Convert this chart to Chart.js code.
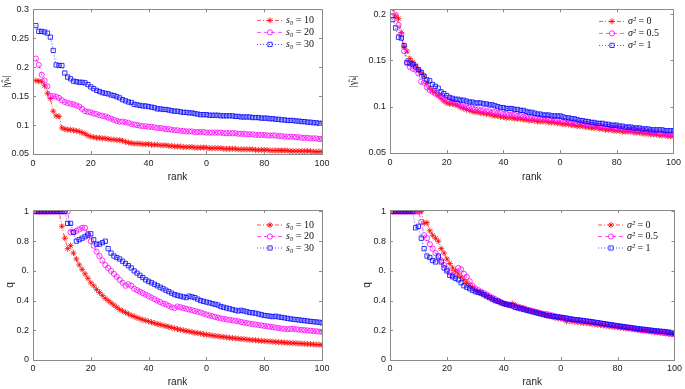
<!DOCTYPE html>
<html>
<head>
<meta charset="utf-8">
<script src="https://cdn.jsdelivr.net/npm/chart.js@4.4.0/dist/chart.umd.min.js"></script>
<style>
body { margin: 0; background: #fff; }
#wrap { position: relative; width: 685px; height: 389px; overflow: hidden; }
canvas { position: absolute; }
</style>
</head>
<body>
<div id="wrap">
	<canvas id="gammaS" width="342" height="194" style="left:0px;top:0px"></canvas>
	<canvas id="gammaSig" width="343" height="194" style="left:342px;top:0px"></canvas>
	<canvas id="qS" width="342" height="194" style="left:0px;top:195px"></canvas>
	<canvas id="qSig" width="343" height="194" style="left:342px;top:195px"></canvas>
</div>
<script>
// rank 1..100 on the x axis
var ranks = [];
for (var i = 1; i <= 100; i++) {
	ranks.push(i);
}

// Tick values and the labels printed for them (as in the original figure)
var xTicks = [0, 20, 40, 60, 80, 100];
var xTickLabels = ['0', '20', '40', '0', '80', '100'];
var gammaTicksS = [0.05, 0.1, 0.15, 0.2, 0.25, 0.3];
var gammaTickLabelsS = ['0.05', '0.1', '0.15', '0.2', '0.25', '0.3'];
var gammaTicksSig = [0.05, 0.1, 0.15, 0.2];
var gammaTickLabelsSig = ['0.05', '0.1', '0.15', '0.2'];
var qTicks = [0, 0.2, 0.4, 0.6, 0.8, 1];
var qTickLabels = ['0', '0.2', '0.4', '0.', '0.8', '1'];

// Legend entries
var s0Labels = ['s₀ = 10', 's₀ = 20', 's₀ = 30'];
var sigmaLabels = ['σ² = 0', 'σ² = 0.5', 'σ² = 1'];

// |gamma_k| vs rank, varying s0
var gammaS10 = [0.177, 0.176, 0.175, 0.168, 0.155, 0.146, 0.124, 0.116, 0.115, 0.095,
	0.093, 0.092, 0.092, 0.091, 0.090, 0.089, 0.087, 0.085, 0.082, 0.080,
	0.079, 0.078, 0.078, 0.077, 0.077, 0.076, 0.075, 0.075, 0.074, 0.074,
	0.073, 0.071, 0.070, 0.069, 0.068, 0.068, 0.068, 0.067, 0.067, 0.067,
	0.066, 0.066, 0.066, 0.065, 0.065, 0.065, 0.064, 0.064, 0.063, 0.063,
	0.063, 0.062, 0.062, 0.062, 0.062, 0.061, 0.061, 0.061, 0.061, 0.061,
	0.060, 0.060, 0.060, 0.060, 0.060, 0.059, 0.059, 0.059, 0.059, 0.059,
	0.058, 0.058, 0.058, 0.058, 0.058, 0.058, 0.057, 0.057, 0.057, 0.057,
	0.057, 0.056, 0.056, 0.056, 0.056, 0.056, 0.056, 0.056, 0.055, 0.055,
	0.055, 0.055, 0.055, 0.055, 0.055, 0.055, 0.054, 0.054, 0.054, 0.054];
var gammaS20 = [0.215, 0.204, 0.187, 0.177, 0.167, 0.150, 0.150, 0.149, 0.147, 0.143,
	0.140, 0.138, 0.137, 0.136, 0.134, 0.132, 0.128, 0.124, 0.123, 0.122,
	0.120, 0.119, 0.117, 0.116, 0.115, 0.113, 0.111, 0.109, 0.107, 0.106,
	0.106, 0.105, 0.104, 0.102, 0.101, 0.100, 0.099, 0.098, 0.098, 0.097,
	0.097, 0.096, 0.095, 0.095, 0.094, 0.093, 0.093, 0.092, 0.091, 0.091,
	0.090, 0.090, 0.089, 0.089, 0.089, 0.088, 0.088, 0.088, 0.088, 0.087,
	0.087, 0.087, 0.087, 0.087, 0.087, 0.086, 0.086, 0.086, 0.086, 0.086,
	0.085, 0.085, 0.085, 0.084, 0.084, 0.084, 0.083, 0.083, 0.083, 0.083,
	0.082, 0.082, 0.082, 0.082, 0.081, 0.081, 0.080, 0.080, 0.080, 0.080,
	0.079, 0.079, 0.078, 0.078, 0.078, 0.077, 0.077, 0.077, 0.076, 0.076];
var gammaS30 = [0.272, 0.262, 0.262, 0.261, 0.259, 0.252, 0.229, 0.204, 0.203, 0.203,
	0.190, 0.183, 0.180, 0.176, 0.175, 0.174, 0.174, 0.173, 0.170, 0.166,
	0.163, 0.160, 0.158, 0.156, 0.155, 0.154, 0.152, 0.151, 0.149, 0.147,
	0.144, 0.142, 0.140, 0.139, 0.136, 0.135, 0.134, 0.133, 0.133, 0.132,
	0.131, 0.130, 0.128, 0.128, 0.127, 0.127, 0.126, 0.125, 0.124, 0.124,
	0.123, 0.122, 0.122, 0.121, 0.121, 0.120, 0.119, 0.118, 0.118, 0.118,
	0.117, 0.117, 0.117, 0.117, 0.116, 0.116, 0.116, 0.116, 0.116, 0.115,
	0.115, 0.114, 0.114, 0.114, 0.114, 0.113, 0.113, 0.113, 0.112, 0.112,
	0.112, 0.111, 0.111, 0.110, 0.110, 0.109, 0.109, 0.108, 0.108, 0.108,
	0.107, 0.107, 0.106, 0.106, 0.105, 0.105, 0.104, 0.104, 0.103, 0.103];

// |gamma_k| vs rank, varying sigma^2
var gammaSig0 = [0.206, 0.198, 0.195, 0.180, 0.165, 0.160, 0.152, 0.148, 0.145, 0.140,
	0.137, 0.133, 0.125, 0.120, 0.117, 0.115, 0.112, 0.109, 0.106, 0.104,
	0.103, 0.103, 0.102, 0.101, 0.099, 0.098, 0.097, 0.096, 0.095, 0.094,
	0.094, 0.093, 0.093, 0.092, 0.092, 0.091, 0.090, 0.090, 0.089, 0.089,
	0.088, 0.088, 0.088, 0.087, 0.087, 0.087, 0.086, 0.086, 0.085, 0.085,
	0.085, 0.084, 0.084, 0.084, 0.084, 0.083, 0.083, 0.083, 0.082, 0.082,
	0.081, 0.081, 0.081, 0.080, 0.080, 0.079, 0.079, 0.079, 0.078, 0.078,
	0.077, 0.077, 0.077, 0.076, 0.076, 0.075, 0.075, 0.075, 0.074, 0.074,
	0.074, 0.073, 0.073, 0.073, 0.073, 0.072, 0.072, 0.072, 0.071, 0.071,
	0.071, 0.070, 0.070, 0.070, 0.069, 0.069, 0.069, 0.068, 0.068, 0.068];
var gammaSig05 = [0.198, 0.199, 0.188, 0.178, 0.160, 0.147, 0.143, 0.141, 0.140, 0.136,
	0.127, 0.126, 0.121, 0.118, 0.116, 0.114, 0.113, 0.111, 0.109, 0.107,
	0.106, 0.105, 0.104, 0.103, 0.101, 0.100, 0.099, 0.099, 0.098, 0.097,
	0.097, 0.096, 0.096, 0.095, 0.095, 0.094, 0.094, 0.093, 0.093, 0.092,
	0.092, 0.091, 0.091, 0.091, 0.090, 0.090, 0.089, 0.089, 0.088, 0.088,
	0.088, 0.088, 0.087, 0.087, 0.087, 0.086, 0.086, 0.086, 0.085, 0.085,
	0.084, 0.084, 0.084, 0.083, 0.083, 0.082, 0.082, 0.082, 0.081, 0.081,
	0.080, 0.080, 0.079, 0.079, 0.078, 0.078, 0.078, 0.077, 0.077, 0.077,
	0.076, 0.076, 0.076, 0.075, 0.075, 0.075, 0.074, 0.074, 0.074, 0.073,
	0.073, 0.073, 0.072, 0.072, 0.071, 0.071, 0.071, 0.070, 0.070, 0.070];
var gammaSig1 = [0.194, 0.185, 0.175, 0.174, 0.166, 0.148, 0.147, 0.146, 0.143, 0.140,
	0.137, 0.133, 0.129, 0.128, 0.124, 0.122, 0.120, 0.116, 0.114, 0.112,
	0.110, 0.109, 0.108, 0.108, 0.107, 0.107, 0.106, 0.105, 0.105, 0.104,
	0.104, 0.104, 0.103, 0.103, 0.102, 0.102, 0.101, 0.100, 0.099, 0.099,
	0.098, 0.098, 0.098, 0.097, 0.097, 0.096, 0.096, 0.095, 0.094, 0.094,
	0.093, 0.092, 0.092, 0.091, 0.091, 0.091, 0.090, 0.090, 0.090, 0.090,
	0.089, 0.088, 0.088, 0.087, 0.087, 0.086, 0.085, 0.085, 0.084, 0.084,
	0.083, 0.083, 0.082, 0.082, 0.082, 0.081, 0.081, 0.080, 0.080, 0.080,
	0.079, 0.079, 0.078, 0.078, 0.078, 0.077, 0.077, 0.077, 0.076, 0.076,
	0.076, 0.075, 0.075, 0.075, 0.075, 0.075, 0.074, 0.074, 0.074, 0.074];

// q vs rank, varying s0
var qS10 = [1, 1, 1, 1, 1, 1, 1, 1, 1, 0.90,
	0.82, 0.75, 0.77, 0.72, 0.68, 0.64, 0.61, 0.58, 0.55, 0.52,
	0.50, 0.475, 0.455, 0.435, 0.415, 0.40, 0.385, 0.37, 0.355, 0.34,
	0.33, 0.32, 0.31, 0.30, 0.293, 0.285, 0.278, 0.271, 0.265, 0.26,
	0.254, 0.248, 0.243, 0.238, 0.233, 0.228, 0.223, 0.218, 0.213, 0.208,
	0.204, 0.20, 0.196, 0.192, 0.188, 0.184, 0.181, 0.178, 0.174, 0.171,
	0.168, 0.165, 0.162, 0.16, 0.157, 0.155, 0.152, 0.15, 0.148, 0.146,
	0.144, 0.142, 0.14, 0.138, 0.136, 0.134, 0.133, 0.131, 0.129, 0.128,
	0.126, 0.125, 0.123, 0.122, 0.12, 0.119, 0.118, 0.116, 0.115, 0.114,
	0.113, 0.111, 0.11, 0.109, 0.108, 0.107, 0.105, 0.104, 0.103, 0.102];
var qS20 = [1, 1, 1, 1, 1, 1, 1, 1, 1, 1,
	1, 1, 0.86, 0.86, 0.87, 0.88, 0.89, 0.89, 0.85, 0.80,
	0.77, 0.73, 0.70, 0.67, 0.64, 0.62, 0.60, 0.58, 0.56, 0.54,
	0.52, 0.50, 0.51, 0.50, 0.48, 0.47, 0.46, 0.45, 0.44, 0.43,
	0.42, 0.41, 0.40, 0.39, 0.38, 0.375, 0.365, 0.355, 0.35, 0.36,
	0.355, 0.35, 0.345, 0.34, 0.335, 0.33, 0.325, 0.32, 0.313, 0.306,
	0.30, 0.295, 0.29, 0.285, 0.28, 0.277, 0.273, 0.27, 0.267, 0.264,
	0.26, 0.256, 0.252, 0.248, 0.245, 0.242, 0.239, 0.236, 0.233, 0.23,
	0.227, 0.224, 0.221, 0.218, 0.215, 0.212, 0.21, 0.207, 0.21, 0.21,
	0.207, 0.205, 0.203, 0.201, 0.199, 0.197, 0.195, 0.193, 0.191, 0.19];
var qS30 = [1, 1, 1, 1, 1, 1, 1, 1, 1, 1,
	1, 0.92, 0.92, 0.86, 0.80, 0.81, 0.82, 0.83, 0.84, 0.85,
	0.81, 0.78, 0.78, 0.79, 0.80, 0.75, 0.72, 0.70, 0.69, 0.68,
	0.665, 0.65, 0.635, 0.62, 0.60, 0.585, 0.57, 0.555, 0.54, 0.53,
	0.52, 0.51, 0.50, 0.49, 0.48, 0.47, 0.46, 0.45, 0.44, 0.435,
	0.43, 0.425, 0.42, 0.43, 0.425, 0.42, 0.41, 0.40, 0.395, 0.39,
	0.385, 0.38, 0.375, 0.37, 0.36, 0.355, 0.35, 0.345, 0.34, 0.335,
	0.33, 0.335, 0.33, 0.325, 0.32, 0.318, 0.315, 0.31, 0.305, 0.30,
	0.298, 0.295, 0.292, 0.295, 0.29, 0.287, 0.284, 0.28, 0.277, 0.274,
	0.272, 0.27, 0.267, 0.265, 0.262, 0.26, 0.258, 0.256, 0.254, 0.25];

// q vs rank, varying sigma^2
var qSig0 = [1, 1, 1, 1, 1, 1, 1, 1, 1, 1,
	1, 0.92, 0.925, 0.87, 0.84, 0.82, 0.80, 0.75, 0.72, 0.68,
	0.65, 0.62, 0.60, 0.58, 0.56, 0.54, 0.52, 0.50, 0.49, 0.47,
	0.46, 0.45, 0.44, 0.43, 0.42, 0.41, 0.40, 0.395, 0.39, 0.38,
	0.375, 0.37, 0.38, 0.37, 0.36, 0.355, 0.35, 0.34, 0.335, 0.33,
	0.325, 0.32, 0.315, 0.31, 0.30, 0.295, 0.29, 0.285, 0.28, 0.28,
	0.275, 0.26, 0.265, 0.26, 0.258, 0.255, 0.252, 0.25, 0.248, 0.245,
	0.242, 0.24, 0.237, 0.235, 0.232, 0.23, 0.227, 0.224, 0.222, 0.22,
	0.217, 0.215, 0.212, 0.21, 0.208, 0.205, 0.203, 0.2, 0.198, 0.196,
	0.193, 0.19, 0.188, 0.186, 0.184, 0.181, 0.179, 0.176, 0.174, 0.172];
var qSig05 = [1, 1, 1, 1, 1, 1, 1, 1, 1, 1,
	0.93, 0.84, 0.82, 0.78, 0.75, 0.72, 0.69, 0.67, 0.64, 0.61,
	0.59, 0.57, 0.58, 0.62, 0.61, 0.58, 0.56, 0.53, 0.50, 0.48,
	0.47, 0.46, 0.45, 0.44, 0.43, 0.42, 0.41, 0.40, 0.39, 0.38,
	0.375, 0.37, 0.365, 0.36, 0.355, 0.35, 0.345, 0.34, 0.335, 0.33,
	0.325, 0.32, 0.315, 0.31, 0.31, 0.305, 0.30, 0.295, 0.29, 0.285,
	0.28, 0.278, 0.275, 0.272, 0.27, 0.267, 0.264, 0.262, 0.26, 0.258,
	0.255, 0.252, 0.249, 0.246, 0.243, 0.24, 0.237, 0.234, 0.231, 0.228,
	0.225, 0.222, 0.219, 0.216, 0.213, 0.21, 0.207, 0.204, 0.201, 0.199,
	0.196, 0.194, 0.191, 0.189, 0.186, 0.184, 0.181, 0.179, 0.176, 0.173];
var qSig1 = [1, 1, 1, 1, 1, 1, 1, 1, 0.89, 0.90,
	0.82, 0.75, 0.70, 0.69, 0.67, 0.66, 0.70, 0.66, 0.62, 0.60,
	0.57, 0.56, 0.55, 0.54, 0.52, 0.50, 0.49, 0.48, 0.47, 0.46,
	0.455, 0.45, 0.44, 0.43, 0.42, 0.41, 0.40, 0.395, 0.385, 0.38,
	0.375, 0.37, 0.365, 0.355, 0.35, 0.345, 0.34, 0.335, 0.33, 0.325,
	0.32, 0.315, 0.31, 0.305, 0.30, 0.298, 0.295, 0.292, 0.29, 0.288,
	0.285, 0.282, 0.278, 0.275, 0.272, 0.27, 0.268, 0.265, 0.262, 0.26,
	0.257, 0.254, 0.251, 0.248, 0.245, 0.242, 0.239, 0.236, 0.233, 0.23,
	0.228, 0.225, 0.222, 0.22, 0.217, 0.214, 0.211, 0.209, 0.207, 0.205,
	0.203, 0.2, 0.198, 0.196, 0.194, 0.192, 0.19, 0.188, 0.185, 0.182];

// Line / marker look for the three series in every panel
var seriesStyle = [
	{ color: '#ff0000', dash: [4, 2, 1, 2], point: 'star', radius: 3 },
	{ color: '#ff00ff', dash: [4, 3], point: 'circle', radius: 2.6 },
	{ color: '#0000ff', dash: [1, 2], point: 'rect', radius: 3 }
];

var boxColor = '#8a8a8a';

Chart.defaults.font.family = '"Liberation Sans", Arial, sans-serif';
Chart.defaults.animation = false;

function makeDatasets(labels, series) {
	var sets = [];
	for (var i = 0; i < series.length; i++) {
		var st = seriesStyle[i];
		var pts = [];
		for (var k = 0; k < ranks.length; k++) {
			pts.push({ x: ranks[k], y: series[i][k] });
		}
		sets.push({
			label: labels[i],
			data: pts,
			borderColor: st.color,
			backgroundColor: 'rgba(0,0,0,0)',
			borderWidth: 0.7,
			borderDash: st.dash,
			pointStyle: st.point,
			pointRadius: st.radius,
			pointBorderWidth: 0.8,
			pointBorderColor: st.color,
			pointBackgroundColor: 'rgba(0,0,0,0)',
			order: 3 - i
		});
	}
	return sets;
}

// Grey frame with inward ticks on all four sides, plus the small key
var framePlugin = {
	id: 'frame',
	afterDraw: function(chart, args, opts) {
		var ctx = chart.ctx;
		var a = chart.chartArea;
		ctx.save();
		ctx.strokeStyle = boxColor;
		ctx.lineWidth = 1;
		ctx.setLineDash([]);
		ctx.strokeRect(Math.round(a.left) + 0.5, Math.round(a.top) + 0.5,
			Math.round(a.right - a.left), Math.round(a.bottom - a.top));
		ctx.beginPath();
		chart.scales.x.ticks.forEach(function(t) {
			var px = Math.round(chart.scales.x.getPixelForValue(t.value)) + 0.5;
			ctx.moveTo(px, a.bottom); ctx.lineTo(px, a.bottom - 3);
			ctx.moveTo(px, a.top); ctx.lineTo(px, a.top + 3);
		});
		chart.scales.y.ticks.forEach(function(t) {
			var py = Math.round(chart.scales.y.getPixelForValue(t.value)) + 0.5;
			ctx.moveTo(a.left, py); ctx.lineTo(a.left + 3, py);
			ctx.moveTo(a.right, py); ctx.lineTo(a.right - 3, py);
		});
		ctx.stroke();
		ctx.restore();

		// key
		chart.data.datasets.forEach(function(ds, i) {
			var x = a.left + opts.x;
			var y = a.top + opts.y + i * opts.step;
			ctx.save();
			ctx.strokeStyle = ds.borderColor;
			ctx.lineWidth = ds.borderWidth;
			ctx.setLineDash(ds.borderDash);
			ctx.beginPath();
			ctx.moveTo(x, y);
			ctx.lineTo(x + 25, y);
			ctx.stroke();
			ctx.setLineDash([]);
			ctx.lineWidth = ds.pointBorderWidth;
			ctx.fillStyle = 'rgba(0,0,0,0)';
			Chart.helpers.drawPoint(ctx, { pointStyle: ds.pointStyle, radius: ds.pointRadius, rotation: 0, borderWidth: ds.pointBorderWidth }, x + 13, y);
			var parts = ds.label.split(' = ');
			ctx.fillStyle = '#111';
			ctx.textBaseline = 'middle';
			ctx.font = 'italic 10px "Liberation Serif", "DejaVu Serif", serif';
			ctx.fillText(parts[0], x + 29, y);
			var w = ctx.measureText(parts[0]).width;
			ctx.font = '10px "Liberation Serif", "DejaVu Serif", serif';
			ctx.fillText(' = ' + parts[1], x + 29 + w, y);
			ctx.restore();
		});
	}
};

function makeChart(id, labels, series, yMin, yMax, yTicks, yLabels, yTitle, lay) {
	var ctx = document.getElementById(id).getContext('2d');
	return new Chart(ctx, {
		type: 'line',
		data: { datasets: makeDatasets(labels, series) },
		plugins: [framePlugin],
		options: {
			responsive: false,
			layout: { padding: { left: lay.padL, right: lay.padR, top: lay.padT, bottom: 0 } },
			plugins: {
				legend: { display: false },
				tooltip: { enabled: false },
				frame: lay.key
			},
			scales: {
				x: {
					type: 'linear',
					min: 0,
					max: 100,
					afterBuildTicks: function(s) { s.ticks = xTicks.map(function(v) { return { value: v }; }); },
					afterFit: function(s) { s.height = lay.xH; },
					grid: { display: false, drawTicks: false },
					border: { display: false },
					ticks: {
						autoSkip: false,
						maxRotation: 0,
						padding: lay.xPad,
						color: '#222',
						font: { size: 9 },
						callback: function(v, idx) { return xTickLabels[idx]; }
					},
					title: { display: true, text: 'rank', color: '#222', font: { size: 10 }, padding: { top: 0, bottom: lay.titleB } }
				},
				y: {
					type: 'linear',
					min: yMin,
					max: yMax,
					afterBuildTicks: function(s) { s.ticks = yTicks.map(function(v) { return { value: v }; }); },
					afterFit: function(s) { s.width = lay.yW; },
					grid: { display: false, drawTicks: false },
					border: { display: false },
					ticks: {
						autoSkip: false,
						padding: 4,
						color: '#222',
						font: { size: 9 },
						callback: function(v, idx) { return yLabels[idx]; }
					},
					title: { display: true, text: yTitle, color: '#222', font: lay.titleFont, padding: { top: lay.titleL, bottom: 0 } }
				}
			}
		}
	});
}

var gammaFont = { family: '"Liberation Serif", "DejaVu Serif", serif', size: 10 };
var qFont = { size: 10 };

makeChart('gammaS', s0Labels, [gammaS10, gammaS20, gammaS30], 0.05, 0.3,
	gammaTicksS, gammaTickLabelsS, '|γ̂ₖ|',
	{ padL: 0, padR: 20, padT: 6, yW: 33, xH: 40, xPad: 4, titleB: 11, titleL: 0, titleFont: gammaFont,
	  key: { x: 224, y: 11, step: 12 } });

makeChart('gammaSig', sigmaLabels, [gammaSig0, gammaSig05, gammaSig1], 0.05, 0.205,
	gammaTicksSig, gammaTickLabelsSig, '|γ̂ₖ|',
	{ padL: 5, padR: 7, padT: 5, yW: 43, xH: 41, xPad: 4, titleB: 11, titleL: 0, titleFont: gammaFont,
	  key: { x: 209, y: 12, step: 12 } });

makeChart('qS', s0Labels, [qS10, qS20, qS30], 0, 1.01,
	qTicks, qTickLabels, 'q',
	{ padL: 0, padR: 20, padT: 15, yW: 33, xH: 29, xPad: 3, titleB: 1, titleL: 4, titleFont: qFont,
	  key: { x: 224, y: 15, step: 11.5 } });

makeChart('qSig', sigmaLabels, [qSig0, qSig05, qSig1], 0, 1.01,
	qTicks, qTickLabels, 'q',
	{ padL: 19, padR: 8, padT: 15, yW: 29, xH: 29, xPad: 3, titleB: 1, titleL: 0, titleFont: qFont,
	  key: { x: 208, y: 15, step: 11.5 } });
</script>
</body>
</html>
